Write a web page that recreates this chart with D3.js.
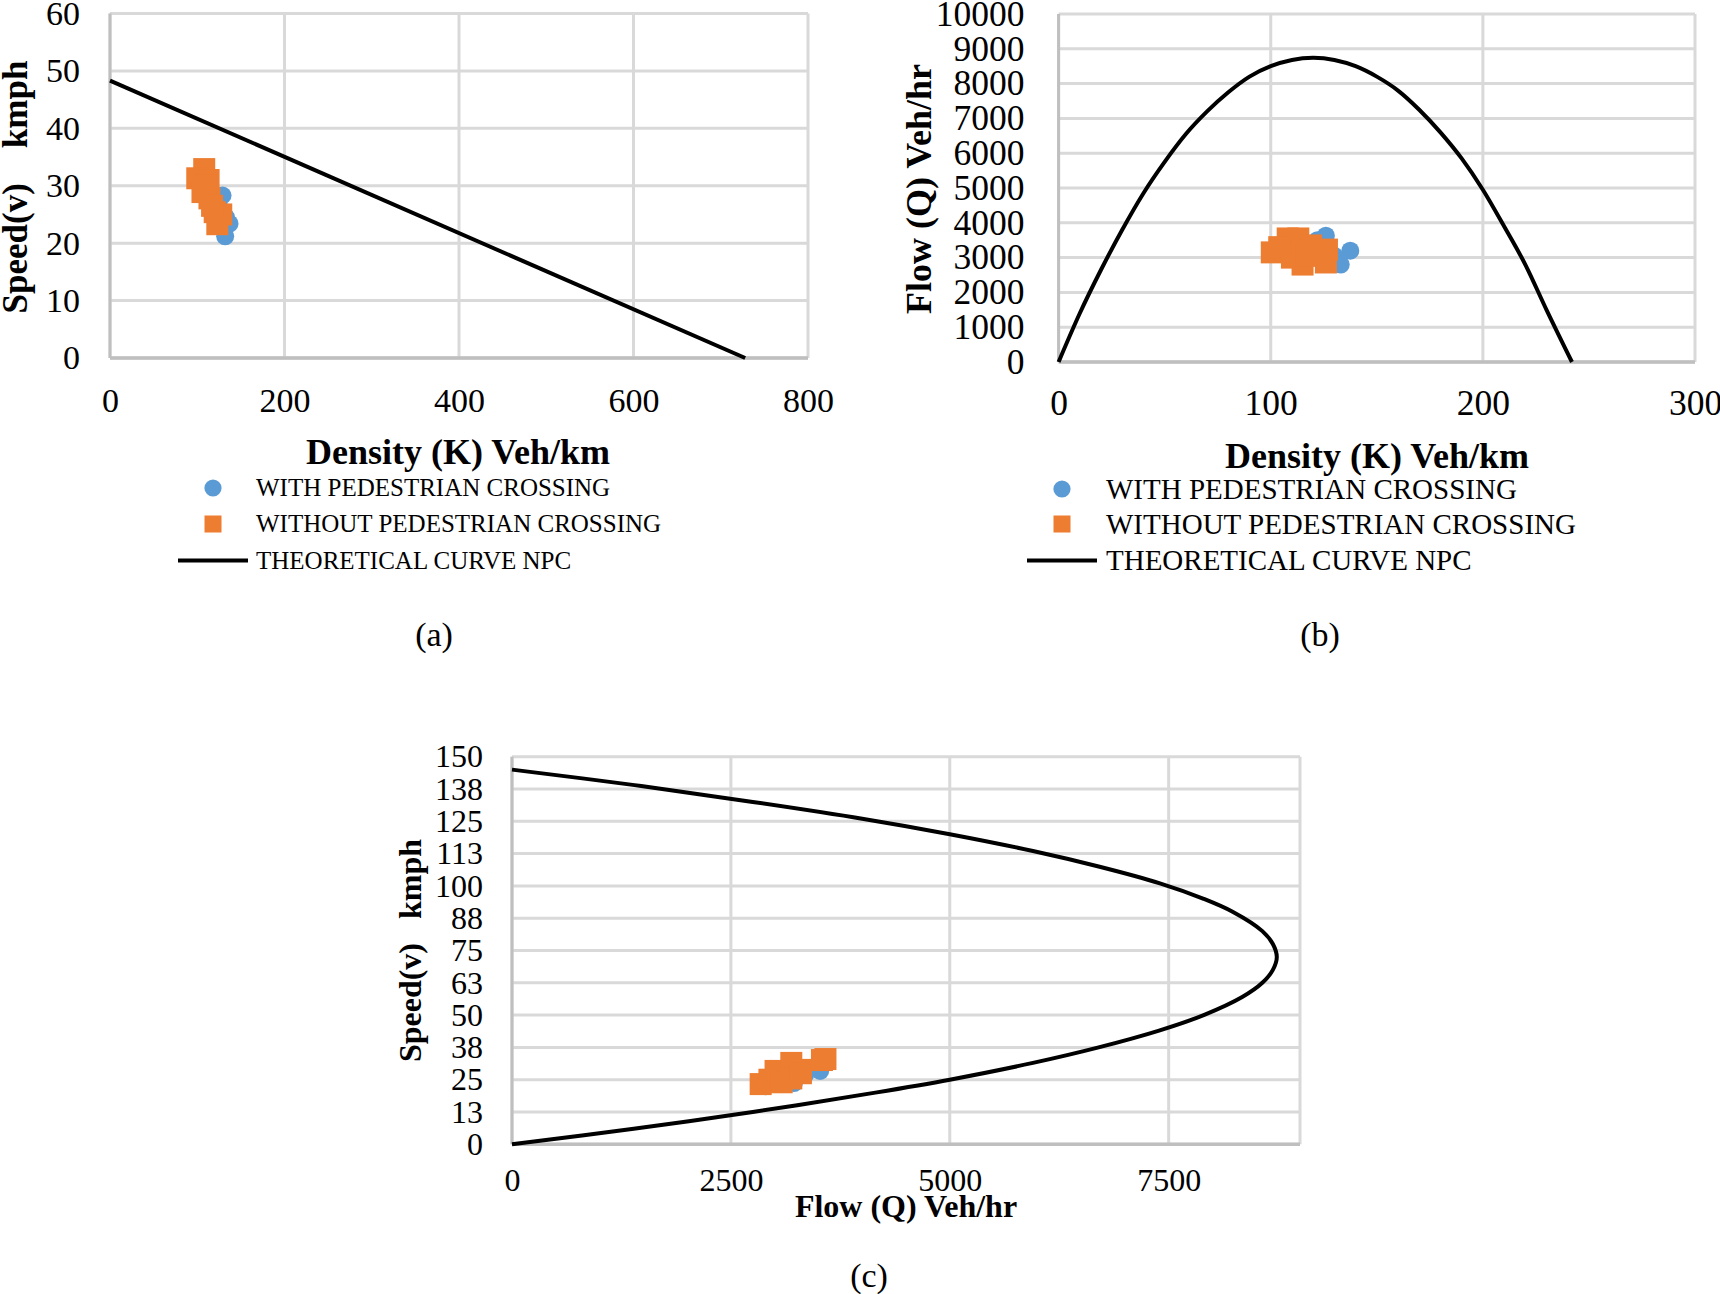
<!DOCTYPE html>
<html>
<head>
<meta charset="utf-8">
<script src="https://cdn.jsdelivr.net/npm/d3@7"></script>
<style>
  body { margin: 0; background: #fff; }
  svg { display: block; font-family: "Liberation Serif", "Times New Roman", serif; }
</style>
</head>
<body>
<svg width="1720" height="1294"></svg>
<script>
// values

// (a) density (veh/km) vs speed (kmph)
const aWith = [[129, 28.3], [137, 23.4], [132, 21.2], [125, 26.5], [133, 24.5]];
const aWithout = [[108, 32.9], [100, 31.3], [113, 31], [106, 28.9], [114, 27.8], [110, 30], [120, 25.4], [127.5, 25], [123, 23.3], [117, 26.5]];
const aTheory = [[0, 48.3], [728, 0]];
const aXTicks = [0, 200, 400, 600, 800];
const aYTicks = [0, 10, 20, 30, 40, 50, 60];

// (b) density (veh/km) vs flow (veh/hr)
const bWith = [[126, 3630], [137.5, 3200], [133, 2800], [122, 3500], [130, 3050]];
const bWithout = [[100.5, 3150], [108, 3550], [113, 3550], [104, 3300], [110, 3000], [115, 2800], [119, 3350], [126.5, 3230], [126, 2860], [117, 3050]];
const bTheory = [[0, 0], [10, 1400], [20, 2650], [30, 3800], [40, 4850], [50, 5750], [60, 6550], [70, 7200], [80, 7750], [90, 8200],
  [100, 8500], [110, 8680], [120, 8740], [130, 8680], [140, 8500], [150, 8200], [160, 7800], [170, 7250], [180, 6600],
  [190, 5850], [200, 4950], [210, 3900], [220, 2800], [230, 1500], [242, 0]];
const bXTicks = [0, 100, 200, 300];
const bYTicks = [0, 1000, 2000, 3000, 4000, 5000, 6000, 7000, 8000, 9000, 10000];

// (c) flow (veh/hr) vs speed (kmph)
const cWith = [[2900, 22.5], [3220, 23.7], [3520, 28.4], [3100, 26], [3350, 27]];
const cWithout = [[2840, 23.3], [2940, 25], [3010, 28.4], [3080, 24], [3190, 31.5], [3190, 25.5], [3290, 28.8], [3300, 27.5], [3540, 32.6], [3580, 33]];
const cTheory = [[0, 0], [1390, 6], [2750, 12.5], [4150, 20], [5000, 25], [5950, 31.5], [6700, 37.5], [7390, 44], [7900, 50],
  [8340, 57], [8570, 62.5], [8690, 67.5], [8735, 72.5], [8690, 77.5], [8570, 82.5], [8230, 90], [7900, 95], [7400, 101],
  [6700, 107.5], [5950, 113.5], [5000, 120], [4000, 126], [2750, 132.5], [1400, 139], [0, 145]];
const cXTicks = [0, 2500, 5000, 7500];
const cXGrid = [0, 2500, 5000, 7500, 9000];
const cYTicks = [0, 12.5, 25, 37.5, 50, 62.5, 75, 87.5, 100, 112.5, 125, 137.5, 150];

const legendNames = ['WITH PEDESTRIAN CROSSING', 'WITHOUT PEDESTRIAN CROSSING', 'THEORETICAL CURVE NPC'];
const blue = '#5b9bd5';
const orange = '#ed7d31';

const svg = d3.select('svg');
svg.append('rect').attr('width', 1720).attr('height', 1294).attr('fill', '#fff');

// draws one scatter panel with grid, tick labels, titles, markers and the theoretical curve
const drawPanel = (p) => {
  const x = d3.scaleLinear().domain(p.xDomain).range([p.left, p.right]);
  const y = d3.scaleLinear().domain(p.yDomain).range([p.bottom, p.top]);
  const g = svg.append('g');

  // gridlines
  g.selectAll('.hgrid').data(p.yTicks).enter().append('line')
    .attr('x1', p.left).attr('x2', p.right)
    .attr('y1', d => y(d)).attr('y2', d => y(d))
    .attr('stroke', '#d9d9d9').attr('stroke-width', 3);
  g.selectAll('.vgrid').data(p.xGrid).enter().append('line')
    .attr('y1', p.top).attr('y2', p.bottom)
    .attr('x1', d => x(d)).attr('x2', d => x(d))
    .attr('stroke', '#d9d9d9').attr('stroke-width', 3);

  // axis lines
  g.append('line').attr('x1', p.left).attr('x2', p.right).attr('y1', p.bottom).attr('y2', p.bottom)
    .attr('stroke', '#bfbfbf').attr('stroke-width', 3.5);
  g.append('line').attr('x1', p.left).attr('x2', p.left).attr('y1', p.top).attr('y2', p.bottom)
    .attr('stroke', '#bfbfbf').attr('stroke-width', 3);

  // tick labels via d3 axes
  const yAxis = g.append('g').attr('transform', `translate(${p.left},0)`)
    .call(d3.axisLeft(y).tickValues(p.yTicks).tickSize(0).tickPadding(p.yPad).tickFormat(d => Math.round(d)));
  const xAxis = g.append('g').attr('transform', `translate(0,${p.bottom})`)
    .call(d3.axisBottom(x).tickValues(p.xTicks).tickSize(0).tickPadding(p.xPad).tickFormat(d => d));
  [yAxis, xAxis].forEach(a => {
    a.select('.domain').remove();
    a.selectAll('text')
      .attr('font-family', '"Liberation Serif", "Times New Roman", serif')
      .attr('font-size', p.tickSize).attr('fill', '#000');
  });

  // axis titles
  g.append('text').attr('x', p.xTitleX).attr('y', p.xTitleY)
    .attr('text-anchor', 'middle').attr('font-weight', 'bold').attr('font-size', p.xTitleSize)
    .text(p.xTitle);
  g.append('text').attr('transform', `translate(${p.yTitleX},${p.yTitleY}) rotate(-90)`)
    .attr('text-anchor', 'middle').attr('font-weight', 'bold').attr('font-size', p.yTitleSize)
    .attr('xml:space', 'preserve').style('white-space', 'pre')
    .text(p.yTitle);

  // markers: blue first, orange on top
  g.selectAll('.with').data(p.withData).enter().append('circle')
    .attr('cx', d => x(d[0])).attr('cy', d => y(d[1])).attr('r', 9)
    .attr('fill', blue);
  g.selectAll('.without').data(p.withoutData).enter().append('rect')
    .attr('x', d => x(d[0]) - 11).attr('y', d => y(d[1]) - 11)
    .attr('width', 22).attr('height', 22)
    .attr('fill', orange);

  // theoretical curve
  const line = d3.line().x(d => x(d[0])).y(d => y(d[1])).curve(p.curve);
  g.append('path').datum(p.theory)
    .attr('d', line).attr('fill', 'none')
    .attr('stroke', '#000').attr('stroke-width', 4)
    .attr('stroke-linejoin', 'round');
};

// legend under panels (a) and (b)
const drawLegend = (mx, tx, rows, fontSize) => {
  const g = svg.append('g');
  g.append('circle').attr('cx', mx).attr('cy', rows[0]).attr('r', 8.6).attr('fill', blue);
  g.append('rect').attr('x', mx - 8.5).attr('y', rows[1] - 8.5).attr('width', 17).attr('height', 17).attr('fill', orange);
  g.append('line').attr('x1', mx - 35).attr('x2', mx + 35).attr('y1', rows[2]).attr('y2', rows[2])
    .attr('stroke', '#000').attr('stroke-width', 4);
  g.selectAll('.lt').data(legendNames).enter().append('text')
    .attr('x', tx).attr('y', (d, i) => rows[i]).attr('dy', '0.33em')
    .attr('font-size', fontSize).text(d => d);
};

drawPanel({
  xDomain: [0, 800], yDomain: [0, 60], left: 110, right: 808, top: 13.5, bottom: 358,
  xTicks: aXTicks, xGrid: aXTicks, yTicks: aYTicks, yPad: 30, xPad: 30, tickSize: 34,
  xTitle: 'Density (K) Veh/km', xTitleX: 458, xTitleY: 464, xTitleSize: 36,
  yTitle: 'Speed(v)    kmph', yTitleX: 27, yTitleY: 187, yTitleSize: 35,
  withData: aWith, withoutData: aWithout, theory: aTheory, curve: d3.curveLinear
});

drawPanel({
  xDomain: [0, 300], yDomain: [0, 10000], left: 1058.6, right: 1695, top: 14, bottom: 362,
  xTicks: bXTicks, xGrid: bXTicks, yTicks: bYTicks, yPad: 34, xPad: 28, tickSize: 35.5,
  xTitle: 'Density (K) Veh/km', xTitleX: 1377, xTitleY: 468, xTitleSize: 36,
  yTitle: 'Flow (Q) Veh/hr', yTitleX: 931, yTitleY: 189, yTitleSize: 36,
  withData: bWith, withoutData: bWithout, theory: bTheory, curve: d3.curveMonotoneX
});

drawPanel({
  xDomain: [0, 9000], yDomain: [0, 150], left: 512, right: 1300, top: 756.7, bottom: 1144.3,
  xTicks: cXTicks, xGrid: cXGrid, yTicks: cYTicks, yPad: 29, xPad: 24, tickSize: 32,
  xTitle: 'Flow (Q) Veh/hr', xTitleX: 906, xTitleY: 1217, xTitleSize: 32,
  yTitle: 'Speed(v)   kmph', yTitleX: 421, yTitleY: 950.5, yTitleSize: 32,
  withData: cWith, withoutData: cWithout, theory: cTheory, curve: d3.curveCatmullRom
});

drawLegend(213, 256, [488, 524, 560.5], 25);
drawLegend(1062, 1106, [489, 524, 560.5], 29);

// sub-figure captions
const captions = [['(a)', 434, 646], ['(b)', 1320, 646], ['(c)', 869, 1287]];
svg.selectAll('.cap').data(captions).enter().append('text')
  .attr('x', d => d[1]).attr('y', d => d[2])
  .attr('text-anchor', 'middle').attr('font-size', 34)
  .text(d => d[0]);
</script>
</body>
</html>
